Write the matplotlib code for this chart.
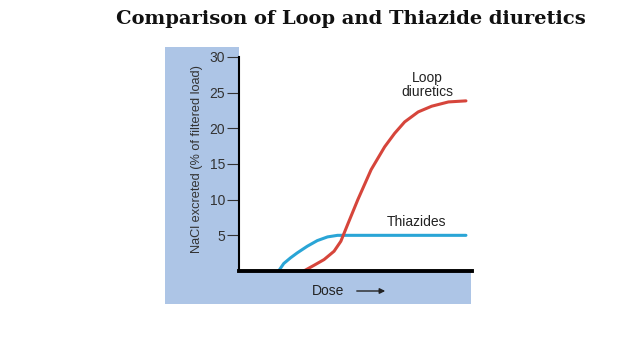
import matplotlib.pyplot as plt
from matplotlib.patches import Rectangle

# curves (dose in arbitrary units 0-100)
thiazide_dose = [17.0, 19.2, 22.1, 25.0, 29.3, 33.6, 38.0, 42.3, 50, 97.4]
thiazide_nacl = [0, 1.05, 1.84, 2.54, 3.47, 4.26, 4.78, 5.0, 5.0, 5.0]

loop_dose = [27.8, 32.2, 36.5, 40.8, 43.7, 46.6, 51.0, 56.7, 62.5, 66.8, 71.1, 76.9, 82.7, 89.9, 97.4]
loop_nacl = [0, 0.8, 1.6, 2.77, 4.16, 6.5, 10.0, 14.2, 17.4, 19.3, 20.9, 22.3, 23.1, 23.7, 23.85]

yticks = [5, 10, 15, 20, 25, 30]

panel_blue = '#adc5e6'
red = '#d6453b'
blue = '#2aa5d6'
sans = 'Liberation Sans'

W, H = 638, 359
fig = plt.figure(figsize=(W / 100, H / 100), dpi=100)

# light blue panel behind the plot
fig.patches.append(Rectangle((165 / W, 1 - 304 / H), (471 - 165) / W, (304 - 47) / H,
                             transform=fig.transFigure, facecolor=panel_blue,
                             edgecolor='none', zorder=-5))

ax = fig.add_axes([239 / W, 1 - 271 / H, (472 - 239) / W, (271 - 47) / H])
ax.set_zorder(2)
ax.set_facecolor('white')
ax.set_xlim(0, 100)
ax.set_ylim(0, 31.4)

ax.plot(thiazide_dose, thiazide_nacl, color=blue, lw=2.2, solid_capstyle='round')
ax.plot(loop_dose, loop_nacl, color=red, lw=2.2, solid_capstyle='round')

ax.text(81, 26.1, 'Loop\ndiuretics', ha='center', va='center', fontsize=10,
        family=sans, color='#222222', linespacing=0.95)
ax.text(76, 6.8, 'Thiazides', ha='center', va='center', fontsize=10,
        family=sans, color='#222222')

for s in ['top', 'right']:
    ax.spines[s].set_visible(False)
ax.spines['left'].set_linewidth(1.5)
ax.spines['left'].set_bounds(0, 30)
ax.spines['bottom'].set_linewidth(2.8)

ax.set_xticks([])
ax.set_yticks(yticks)
ax.set_yticklabels([str(t) for t in yticks], family=sans, fontsize=10, color='#333333')
ax.tick_params(axis='y', direction='out', length=9, width=0.8, color='#333333', pad=1)

ax.set_ylabel('NaCl excreted (% of filtered load)', family=sans, fontsize=9.2,
              color='#333333', labelpad=5)

fig.text(328 / W, 1 - 291 / H, 'Dose', ha='center', va='center', fontsize=10,
         family=sans, color='#222222', zorder=3)
ax.annotate('', xy=(388 / W, 1 - 291 / H), xytext=(354 / W, 1 - 291 / H),
            xycoords='figure fraction', textcoords='figure fraction', annotation_clip=False,
            arrowprops=dict(arrowstyle='-|>', color='#222222', lw=1, mutation_scale=8))

fig.text(351 / W, 1 - 19 / H, 'Comparison of Loop and Thiazide diuretics', ha='center',
         va='center', fontsize=14, family='DejaVu Serif', weight='bold', color='#111111')

fig.savefig('out.png', dpi=100, facecolor='white')
